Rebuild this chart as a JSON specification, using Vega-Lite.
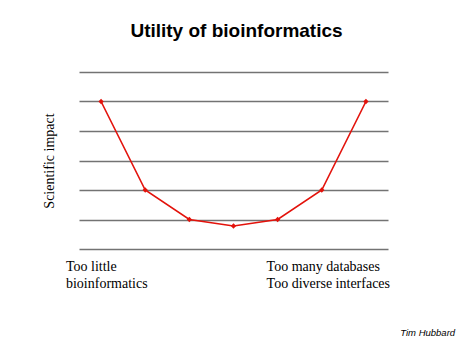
{
  "$schema": "https://vega.github.io/schema/vega-lite/v6.json",
  "width": 309,
  "height": 177,
  "autosize": {"type": "none"},
  "padding": {"left": 79, "top": 72, "right": 86, "bottom": 106},
  "background": "white",
  "config": {"view": {"stroke": null}},
  "title": {
    "text": "Utility of bioinformatics",
    "font": "Liberation Sans",
    "fontSize": 19,
    "fontWeight": "bold",
    "color": "black",
    "anchor": "middle",
    "frame": "group",
    "baseline": "alphabetic",
    "offset": 16,
    "dx": 3
  },
  "encoding": {
    "x": {"field": "x", "type": "quantitative", "scale": {"domain": [-0.5, 6.5], "nice": false, "zero": false}, "axis": null},
    "y": {
      "field": "y", "type": "quantitative",
      "scale": {"domain": [0, 6], "nice": false, "zero": false},
      "axis": {
        "values": [0, 1, 2, 3, 4, 5, 6],
        "grid": true, "gridColor": "#737373", "gridWidth": 1.4, "gridOpacity": 1,
        "labels": false, "ticks": false, "domain": false,
        "title": "Scientific impact", "titleFont": "Liberation Serif", "titleFontSize": 14,
        "titleFontWeight": "normal", "titleColor": "black", "titlePadding": 23
      }
    }
  },
  "layer": [
    {
      "data": {"values": [
        {"x": 0, "y": 5}, {"x": 1, "y": 2}, {"x": 2, "y": 1}, {"x": 3, "y": 0.78},
        {"x": 4, "y": 1}, {"x": 5, "y": 2}, {"x": 6, "y": 5}
      ]},
      "mark": {"type": "line", "color": "#e3120b", "strokeWidth": 1.6,
        "point": {"shape": "diamond", "size": 28, "filled": true, "color": "#e3120b", "opacity": 1}}
    },
    {
      "data": {"values": [
        {"x": -0.795, "y": -0.75, "label": "Too little\nbioinformatics"},
        {"x": 3.75, "y": -0.75, "label": "Too many databases\nToo diverse interfaces"}
      ]},
      "mark": {"type": "text", "align": "left", "baseline": "alphabetic", "font": "Liberation Serif",
        "fontSize": 14, "lineHeight": 16.5, "lineBreak": "\n", "color": "black"},
      "encoding": {"text": {"field": "label", "type": "nominal"}}
    },
    {
      "data": {"values": [{"x": 8.02, "y": -2.95, "label": "Tim Hubbard"}]},
      "mark": {"type": "text", "align": "right", "baseline": "alphabetic", "font": "Liberation Sans",
        "fontStyle": "italic", "fontSize": 9.5, "color": "black"},
      "encoding": {"text": {"field": "label", "type": "nominal"}}
    }
  ]
}
